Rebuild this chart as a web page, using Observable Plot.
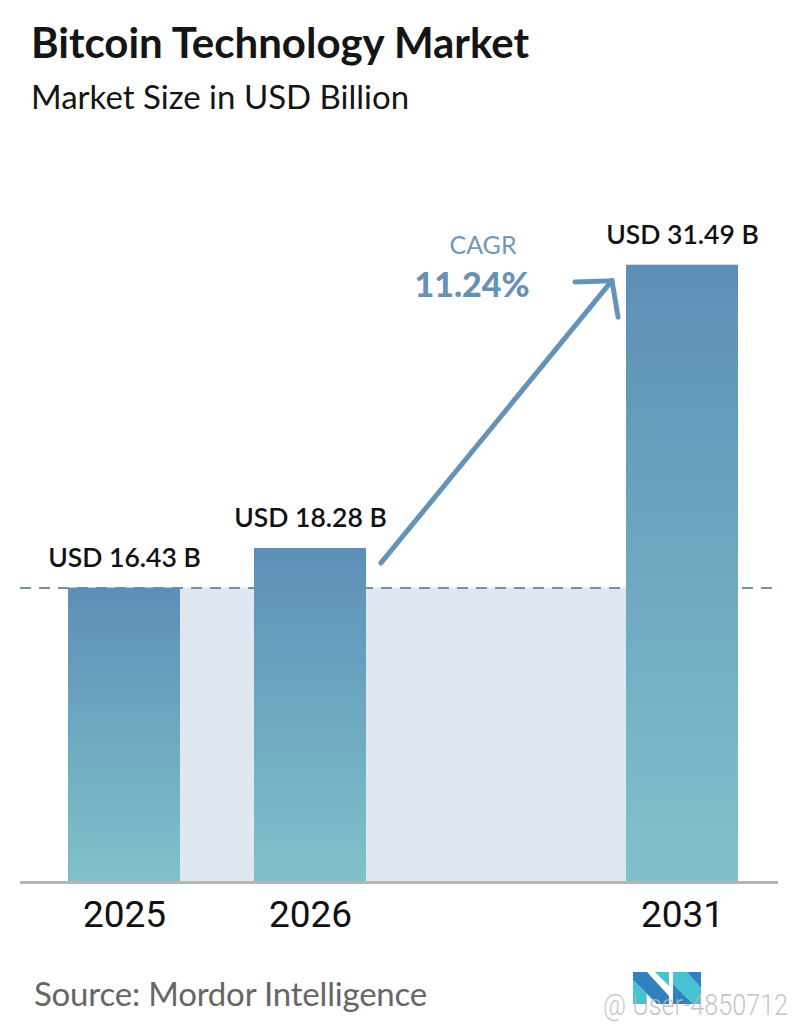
<!DOCTYPE html>
<html><head><meta charset="utf-8">
<script src="https://cdn.jsdelivr.net/npm/d3@7"></script>
<script src="https://cdn.jsdelivr.net/npm/@observablehq/plot@0.6"></script>
<style>
body{margin:0;background:#fff;width:796px;height:1034px;position:relative;overflow:hidden;font-family:Lato,"Noto Sans",sans-serif}
#title{position:absolute;left:31px;top:17px;font:700 42px Lato,sans-serif;color:#151515;white-space:nowrap}
#subtitle{position:absolute;left:31px;top:76px;font:400 33px Lato,sans-serif;color:#151515;white-space:nowrap}
#chart{position:absolute;left:0;top:130px}
#source{position:absolute;left:34px;top:973px;font:400 33px Lato,sans-serif;color:#666;white-space:nowrap;letter-spacing:-0.2px}
#logo{position:absolute;left:633px;top:972px}
#wm{position:absolute;left:603px;top:987px;font:300 30px Roboto,sans-serif;color:rgba(185,185,185,0.85);white-space:nowrap;transform:scaleX(0.84);transform-origin:0 0}
</style></head><body>
<div id="title">Bitcoin Technology Market</div>
<div id="subtitle">Market Size in USD Billion</div>
<div id="chart"></div>
<div id="source">Source: Mordor Intelligence</div>
<svg id="logo" width="68" height="32" viewBox="0 0 68 32">
  <polygon points="0,0 14,0 36,24 36,32 24,32 0,8" fill="#2f82bd"/>
  <polygon points="0,8 0,32 14,32 14,22" fill="#46c2d2"/>
  <polygon points="22,0 36,0 36,14" fill="#46c2d2"/>
  <polygon points="40,0 54,0 68,16 68,32 60,32 40,12" fill="#46c2d2"/>
  <polygon points="54,0 68,0 68,16" fill="#2f82bd"/>
  <polygon points="40,12 60,32 40,32" fill="#2f82bd"/>
</svg>
<div id="wm">@ User-4850712</div>
<script>
// ---- data ----
const years = ["2025", "2026", "2031"];
const values = [16.43, 18.28, 31.49];
const gapSlot = "2027-2030";
const cagrLabel = "CAGR";
const cagrValue = "11.24%";
const unitPrefix = "USD ";
const unitSuffix = " B";

const data = years.map((year, i) => ({year, value: values[i]}));
const xDomain = [years[0], years[1], gapSlot, years[2]];

const chart = Plot.plot({
  width: 796,
  height: 820,
  marginLeft: 68,
  marginRight: 58,
  marginTop: 38,
  marginBottom: 68,
  style: {fontFamily: "Roboto, sans-serif", color: "#111", background: "transparent"},
  x: {type: "band", domain: xDomain, paddingInner: 0.4, paddingOuter: 0, align: 0.5},
  y: {domain: [2.7, 36], clamp: true, axis: null},
  marks: [
    Plot.rect([values[0]], {y1: 0, y2: d => d, fill: "#dfe8f1"}),
    Plot.ruleY([values[0]], {stroke: "#7892a5", strokeWidth: 2, strokeDasharray: "11,8", insetLeft: -48, insetRight: -40}),
    Plot.barY(data, {x: "year", y: "value", fill: "url(#barGrad)"}),
    Plot.ruleY([0], {stroke: "#b5b5b5", strokeWidth: 3, insetLeft: -48, insetRight: -40}),
    Plot.text(data, {x: "year", y: "value", text: d => unitPrefix + d.value.toFixed(2) + unitSuffix,
      dy: -21, lineAnchor: "bottom", fontFamily: "Lato, sans-serif", fontSize: 26.5, fontWeight: 600, fill: "#111"}),
    Plot.axisX(years, {tickSize: 0, tickPadding: 18, fontSize: 37, fontWeight: 400, label: null, fill: "#111"})
  ]
});

const svg = d3.select(chart);
svg.insert("defs", ":first-child").html(
  `<linearGradient id="barGrad" x1="0" y1="0" x2="0" y2="1">
     <stop offset="0" stop-color="#5c8fb7"/>
     <stop offset="1" stop-color="#80c2ca"/>
   </linearGradient>`);

// CAGR annotation placed with the plot's scales
const xs = chart.scale("x"), ys = chart.scale("y");
const bw = xs.bandwidth;
const sx = xs.apply(years[1]) + bw + 15, sy = ys.apply(values[1]) + 15;
const ex = xs.apply(years[2]) - 14, ey = ys.apply(values[2]) + 16;
const g = svg.append("g").attr("stroke", "#6592b7").attr("stroke-width", 5)
  .attr("stroke-linecap", "round").attr("fill", "none");
g.append("line").attr("x1", sx).attr("y1", sy).attr("x2", ex).attr("y2", ey);
const th = Math.atan2(sy - ey, sx - ex), L = 37, a = 0.85;
g.append("path").attr("d",
  `M${ex + L * Math.cos(th - a)},${ey + L * Math.sin(th - a)}L${ex},${ey}L${ex + L * Math.cos(th + a)},${ey + L * Math.sin(th + a)}`);

const mid = (xs.apply(years[1]) + xs.apply(years[2]) + bw) / 2;
svg.append("text").attr("x", mid - 13).attr("y", ys.apply(values[2]) - 11)
  .attr("text-anchor", "middle").attr("font-family", "Lato, sans-serif").attr("font-size", 25)
  .attr("fill", "#7398b6").text(cagrLabel);
svg.append("text").attr("x", mid - 24).attr("y", ys.apply(values[2]) + 32)
  .attr("text-anchor", "middle").attr("font-family", "Lato, sans-serif").attr("font-size", 34)
  .attr("font-weight", 900).attr("fill", "#6791b3").text(cagrValue);

document.getElementById("chart").appendChild(chart);
</script>
</body></html>
